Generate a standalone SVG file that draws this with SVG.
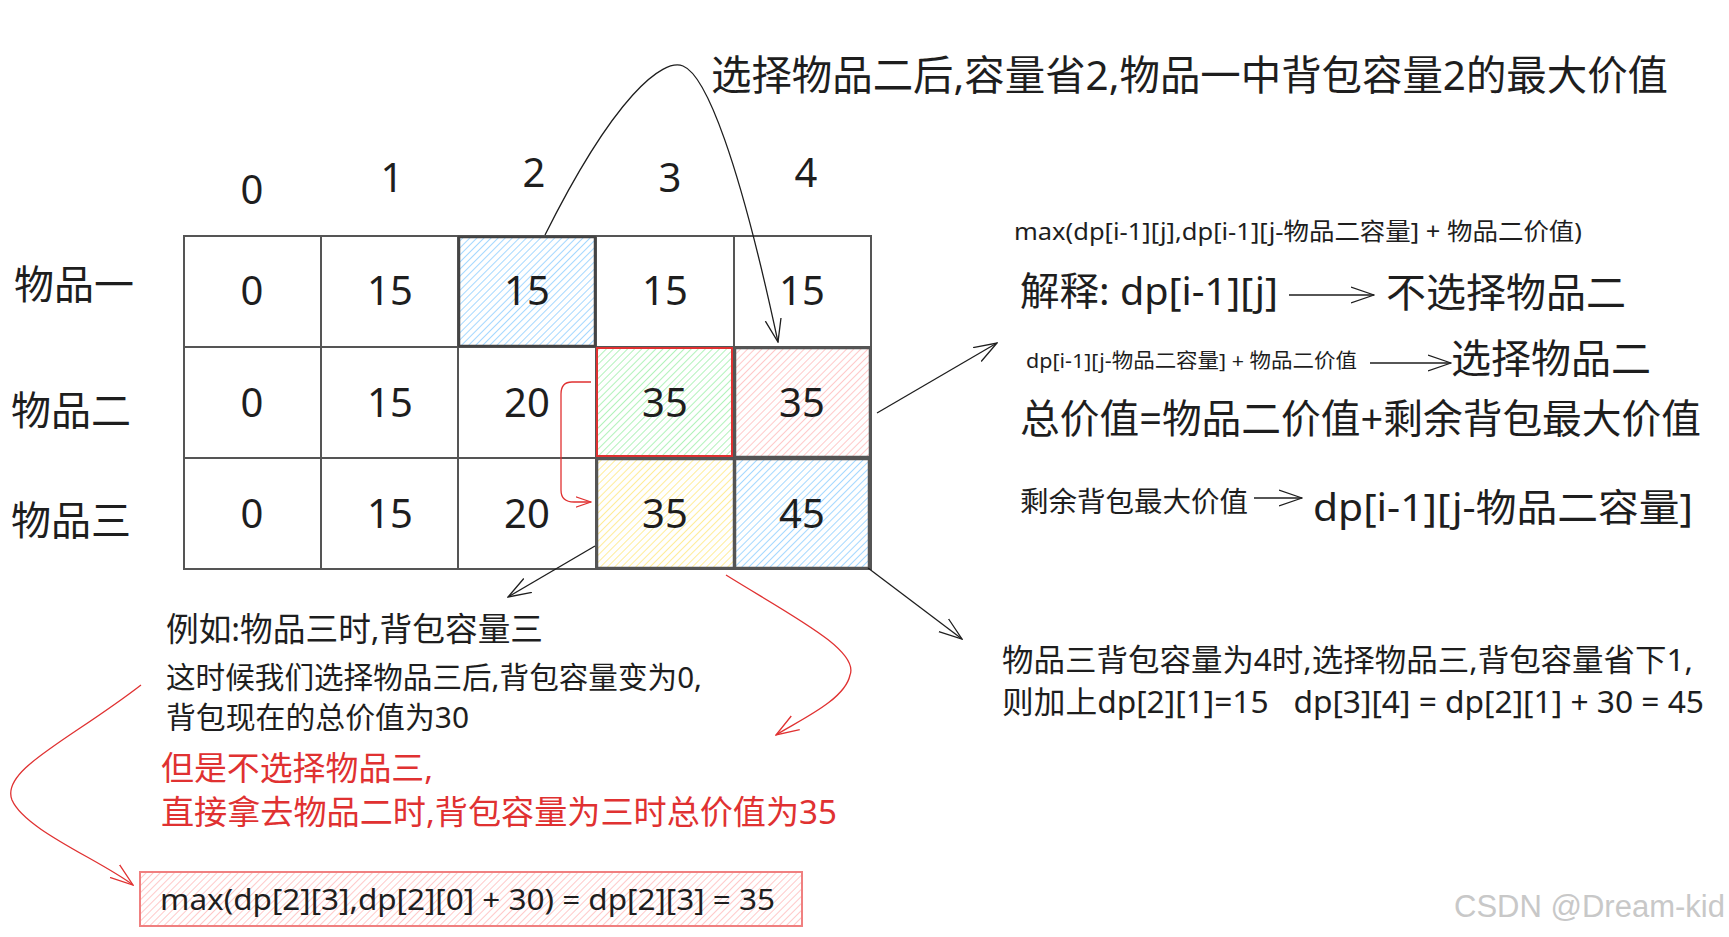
<svg xmlns="http://www.w3.org/2000/svg" width="1729" height="937" viewBox="0 0 1729 937">
<style>
.t{font-family:"Noto Sans","Noto Sans CJK SC",sans-serif;fill:#1e1e1e}
.cj{font-family:"Noto Sans CJK SC",sans-serif;fill:#1e1e1e}
.red{fill:#e03131}
.num{font-size:40px;text-anchor:middle}
.grid{fill:none;stroke:#555;stroke-width:2}
.blk{fill:none;stroke:#1e1e1e;stroke-width:1.3}
.rd{fill:none;stroke:#e03131;stroke-width:1.3}
.pre{white-space:pre}
</style>
<defs>
<pattern id="hBlue" width="5" height="5" patternUnits="userSpaceOnUse" patternTransform="rotate(45)"><line x1="0" y1="0" x2="0" y2="5" stroke="#a5d8ff" stroke-width="2"/></pattern>
<pattern id="hGreen" width="5" height="5" patternUnits="userSpaceOnUse" patternTransform="rotate(45)"><line x1="0" y1="0" x2="0" y2="5" stroke="#b2f2bb" stroke-width="2"/></pattern>
<pattern id="hPink" width="5" height="5" patternUnits="userSpaceOnUse" patternTransform="rotate(45)"><line x1="0" y1="0" x2="0" y2="5" stroke="#ffc9c9" stroke-width="2"/></pattern>
<pattern id="hYellow" width="5" height="5" patternUnits="userSpaceOnUse" patternTransform="rotate(45)"><line x1="0" y1="0" x2="0" y2="5" stroke="#ffec99" stroke-width="2"/></pattern>
<marker id="aB" viewBox="0 0 24 20" refX="23" refY="10" markerWidth="24" markerHeight="20" markerUnits="userSpaceOnUse" orient="auto"><path d="M0,2 L23,10 L0,18" fill="none" stroke="#1e1e1e" stroke-width="1.3"/></marker>
<marker id="aR" viewBox="0 0 24 20" refX="23" refY="10" markerWidth="24" markerHeight="20" markerUnits="userSpaceOnUse" orient="auto"><path d="M0,2 L23,10 L0,18" fill="none" stroke="#e03131" stroke-width="1.3"/></marker>
<marker id="aRs" viewBox="0 0 24 20" refX="23" refY="10" markerWidth="16" markerHeight="14" markerUnits="userSpaceOnUse" orient="auto"><path d="M0,2 L23,10 L0,18" fill="none" stroke="#e03131" stroke-width="1.8"/></marker>
</defs>
<rect width="1729" height="937" fill="#fff"/>

<g id="col-headers">
<text class="t num" x="252" y="204">0</text>
<text class="t num" x="392" y="192">1</text>
<text class="t num" x="534" y="187">2</text>
<text class="t num" x="670" y="192">3</text>
<text class="t num" x="806" y="187">4</text>
</g>

<g id="row-labels">
<text class="cj" font-size="40" x="14" y="299">物品一</text>
<text class="cj" font-size="40" x="11" y="425">物品二</text>
<text class="cj" font-size="40" x="11" y="535">物品三</text>
</g>

<g id="table">
<rect class="grid" x="184" y="236" width="687" height="333"/>
<line class="grid" x1="321" y1="236" x2="321" y2="569"/>
<line class="grid" x1="458" y1="236" x2="458" y2="569"/>
<line class="grid" x1="596" y1="236" x2="596" y2="569"/>
<line class="grid" x1="734" y1="236" x2="734" y2="569"/>
<line class="grid" x1="184" y1="347" x2="871" y2="347"/>
<line class="grid" x1="184" y1="458" x2="871" y2="458"/>
</g>

<g id="cell-r1c2"><rect x="459" y="237" width="136" height="109" fill="url(#hBlue)" stroke="#444" stroke-width="2.5"/></g>
<g id="cell-r2c3"><rect x="597" y="348" width="135" height="108" fill="url(#hGreen)" stroke="#e03131" stroke-width="2"/></g>
<g id="cell-r2c4"><rect x="735" y="348" width="135" height="109" fill="url(#hPink)" stroke="#555" stroke-width="2.5"/></g>
<g id="cell-r3c3"><rect x="597" y="459" width="137" height="109" fill="url(#hYellow)" stroke="#555" stroke-width="2.5"/></g>
<g id="cell-r3c4"><rect x="735" y="459" width="134" height="109" fill="url(#hBlue)" stroke="#555" stroke-width="2.5"/></g>

<g id="cell-values">
<text class="t num" x="252" y="305">0</text>
<text class="t num" x="390" y="305">15</text>
<text class="t num" x="527" y="305">15</text>
<text class="t num" x="665" y="305">15</text>
<text class="t num" x="802" y="305">15</text>
<text class="t num" x="252" y="417">0</text>
<text class="t num" x="390" y="417">15</text>
<text class="t num" x="527" y="417">20</text>
<text class="t num" x="665" y="417">35</text>
<text class="t num" x="802" y="417">35</text>
<text class="t num" x="252" y="528">0</text>
<text class="t num" x="390" y="528">15</text>
<text class="t num" x="527" y="528">20</text>
<text class="t num" x="665" y="528">35</text>
<text class="t num" x="802" y="528">45</text>
</g>

<g id="title"><text class="t" font-size="40.5" x="711" y="90" textLength="957" lengthAdjust="spacingAndGlyphs">选择物品二后,容量省2,物品一中背包容量2的最大价值</text></g>

<g id="formula">
<text class="t" font-size="24" x="1014" y="240" textLength="568" lengthAdjust="spacingAndGlyphs">max(dp[i-1][j],dp[i-1][j-物品二容量] + 物品二价值)</text>
</g>
<g id="explain1">
<text class="t" font-size="39" x="1020" y="305" textLength="258" lengthAdjust="spacingAndGlyphs">解释: dp[i-1][j]</text>
<text class="cj" font-size="40" x="1386" y="307">不选择物品二</text>
</g>
<g id="explain2">
<text class="t" font-size="20" x="1026" y="368" textLength="331" lengthAdjust="spacingAndGlyphs">dp[i-1][j-物品二容量] + 物品二价值</text>
<text class="cj" font-size="40" x="1451" y="373">选择物品二</text>
</g>
<g id="explain3"><text class="t" font-size="40" x="1020" y="433" textLength="681" lengthAdjust="spacingAndGlyphs">总价值=物品二价值+剩余背包最大价值</text></g>
<g id="explain4">
<text class="cj" font-size="28.5" x="1020" y="512">剩余背包最大价值</text>
<text class="t" font-size="38" x="1313" y="521" textLength="380" lengthAdjust="spacingAndGlyphs">dp[i-1][j-物品二容量]</text>
</g>
<g id="note-right">
<text class="t" font-size="31" x="1002" y="671" textLength="691" lengthAdjust="spacingAndGlyphs">物品三背包容量为4时,选择物品三,背包容量省下1,</text>
<text class="t pre" font-size="31" x="1002" y="713" textLength="702" lengthAdjust="spacingAndGlyphs">则加上dp[2][1]=15   dp[3][4] = dp[2][1] + 30 = 45</text>
</g>
<g id="note-left">
<text class="t" font-size="32.5" x="166" y="641" textLength="377" lengthAdjust="spacingAndGlyphs">例如:物品三时,背包容量三</text>
<text class="t" font-size="29.5" x="166" y="688" textLength="536" lengthAdjust="spacingAndGlyphs">这时候我们选择物品三后,背包容量变为0,</text>
<text class="t" font-size="29.5" x="166" y="728" textLength="303" lengthAdjust="spacingAndGlyphs">背包现在的总价值为30</text>
</g>
<g id="note-red">
<text class="t red" font-size="33" x="161" y="780" textLength="272" lengthAdjust="spacingAndGlyphs">但是不选择物品三,</text>
<text class="t red" font-size="33" x="161" y="824" textLength="676" lengthAdjust="spacingAndGlyphs">直接拿去物品二时,背包容量为三时总价值为35</text>
</g>
<g id="result-box">
<rect x="140" y="872" width="662" height="54" fill="url(#hPink)" stroke="#f08080" stroke-width="2"/>
<text class="t" font-size="29" x="160" y="910" textLength="615" lengthAdjust="spacingAndGlyphs">max(dp[2][3],dp[2][0] + 30) = dp[2][3] = 35</text>
</g>

<g id="connectors">
<path class="blk" d="M545,235 C615,95 663,58 683,66 C706,75 739,160 778,342" marker-end="url(#aB)"/>
<path class="rd" d="M591,382 L572,382 Q561,382 561,394 L561,490 Q561,502 574,502 L591,502" marker-end="url(#aRs)"/>
<path class="blk" d="M595,546 L508,597" marker-end="url(#aB)"/>
<path class="blk" d="M877,413 L997,343" marker-end="url(#aB)"/>
<path class="blk" d="M868,568 L962,639" marker-end="url(#aB)"/>
<path class="rd" d="M726,575 C790,615 860,650 850,675 C845,700 800,720 776,735" marker-end="url(#aR)"/>
<path class="rd" d="M141,685 C70,740 0,770 12,800 C25,830 100,860 133,885" marker-end="url(#aR)"/>
<path class="blk" d="M1289,295 L1374,295" marker-end="url(#aB)"/>
<path class="blk" d="M1370,363 L1451,363" marker-end="url(#aB)"/>
<path class="blk" d="M1254,498 L1302,498" marker-end="url(#aB)"/>
</g>

<g id="watermark"><text x="1454" y="917" font-family="Liberation Sans,sans-serif" font-size="31" fill="#c8c8c8" textLength="271" lengthAdjust="spacingAndGlyphs">CSDN @Dream-kid</text></g>
</svg>
